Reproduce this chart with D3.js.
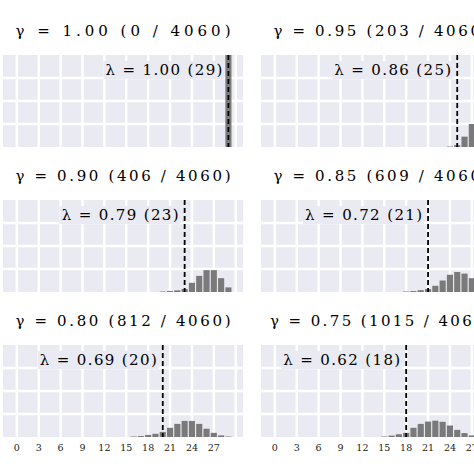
<!DOCTYPE html>
<html><head><meta charset="utf-8">
<script src="https://cdn.jsdelivr.net/npm/d3@7"></script>
<style>body{margin:0;background:#fff;overflow:hidden}</style>
</head><body>
<svg id="chart" width="474" height="474"></svg>
<script>
// one entry per panel
const gammas = ["1.00", "0.95", "0.90", "0.85", "0.80", "0.75"];
const removed = [0, 203, 406, 609, 812, 1015];
const total = 4060;
const lambdas = ["1.00", "0.86", "0.79", "0.72", "0.69", "0.62"];
const cutoffs = [29, 25, 23, 21, 20, 18];
// histogram: [value, fraction]
const hists = [
    [[29, 1.0]],
    [[24, 0.002], [25, 0.008], [26, 0.045], [27, 0.10], [28, 0.16], [29, 0.2]],
    [[20, 0.002], [21, 0.004], [22, 0.007], [23, 0.013], [24, 0.04], [25, 0.07], [26, 0.095], [27, 0.095], [28, 0.06], [29, 0.02]],
    [[18, 0.002], [19, 0.004], [20, 0.008], [21, 0.013], [22, 0.027], [23, 0.05], [24, 0.075], [25, 0.087], [26, 0.08], [27, 0.06], [28, 0.03]],
    [[16, 0.002], [17, 0.004], [18, 0.009], [19, 0.014], [20, 0.022], [21, 0.04], [22, 0.057], [23, 0.07], [24, 0.07], [25, 0.057], [26, 0.036], [27, 0.018], [28, 0.007], [29, 0.002]],
    [[15, 0.002], [16, 0.006], [17, 0.012], [18, 0.018], [19, 0.04], [20, 0.057], [21, 0.067], [22, 0.071], [23, 0.066], [24, 0.05], [25, 0.031], [26, 0.017], [27, 0.007], [28, 0.002]]
];
const xTicks = [0, 3, 6, 9, 12, 15, 18, 21, 24, 27];

const svg = d3.select("#chart");
const pw = 240, ph = 92;
const lefts = [3, 261], tops = [55, 200, 345];
const serif = "'DejaVu Serif', serif";

gammas.forEach((gm, i) => {
    const col = i % 2, row = Math.floor(i / 2);
    const g = svg.append("g").attr("transform", `translate(${lefts[col]},${tops[row]})`);
    const x = d3.scaleLinear().domain([-1.9, 31]).range([0, pw]);
    const y = d3.scaleLinear().domain([0, 0.4]).range([ph, 0]);

    const clipId = "clip" + i;
    g.append("clipPath").attr("id", clipId).append("rect").attr("width", pw).attr("height", ph);

    g.append("rect").attr("width", pw).attr("height", ph).attr("fill", "#eaeaf2");
    g.selectAll(".vg").data(d3.range(0, 31, 3)).join("line")
        .attr("x1", d => x(d)).attr("x2", d => x(d)).attr("y1", 0).attr("y2", ph)
        .attr("stroke", "#fff").attr("stroke-width", 2.5);
    g.selectAll(".hg").data([0.1, 0.2, 0.3]).join("line")
        .attr("x1", 0).attr("x2", pw).attr("y1", d => y(d)).attr("y2", d => y(d))
        .attr("stroke", "#fff").attr("stroke-width", 2.5);

    const inner = g.append("g").attr("clip-path", `url(#${clipId})`);
    inner.selectAll(".bar").data(hists[i]).join("rect")
        .attr("x", d => x(d[0] - 0.42)).attr("width", x(0.84) - x(0))
        .attr("y", d => y(d[1])).attr("height", d => ph - y(d[1]))
        .attr("fill", "#7a7a7a");
    inner.append("line")
        .attr("x1", x(cutoffs[i])).attr("x2", x(cutoffs[i])).attr("y1", 0).attr("y2", ph)
        .attr("stroke", "#000").attr("stroke-width", 1.8).attr("stroke-dasharray", "5,3");

    // label with background box
    const lw = 117;
    const lbl = g.append("text")
        .attr("x", x(cutoffs[i]) - 6 - lw).attr("y", 20)
        .attr("font-family", serif).attr("font-size", 15)
        .attr("textLength", lw).attr("lengthAdjust", "spacing")
        .text(`λ = ${lambdas[i]} (${cutoffs[i]})`);
    const bb = lbl.node().getBBox();
    g.insert("rect", "text").attr("x", bb.x - 2).attr("y", bb.y).attr("width", bb.width + 4)
        .attr("height", bb.height).attr("fill", "#eaeaf2");

    const tw = removed[i] >= 1000 ? 222 : 215;
    g.append("text").attr("x", pw / 2 - tw / 2).attr("y", -19)
        .attr("font-family", serif).attr("font-size", 15)
        .attr("textLength", tw).attr("lengthAdjust", "spacing")
        .text(`γ = ${gm} (${removed[i]} / ${total})`);

    if (row === 2) {
        g.selectAll(".tk").data(xTicks).join("text")
            .attr("x", d => x(d)).attr("y", ph + 14).attr("text-anchor", "middle")
            .attr("font-family", serif).attr("font-size", 9.5).attr("fill", "#222")
            .text(d => d);
    }
});
</script>
</body></html>
